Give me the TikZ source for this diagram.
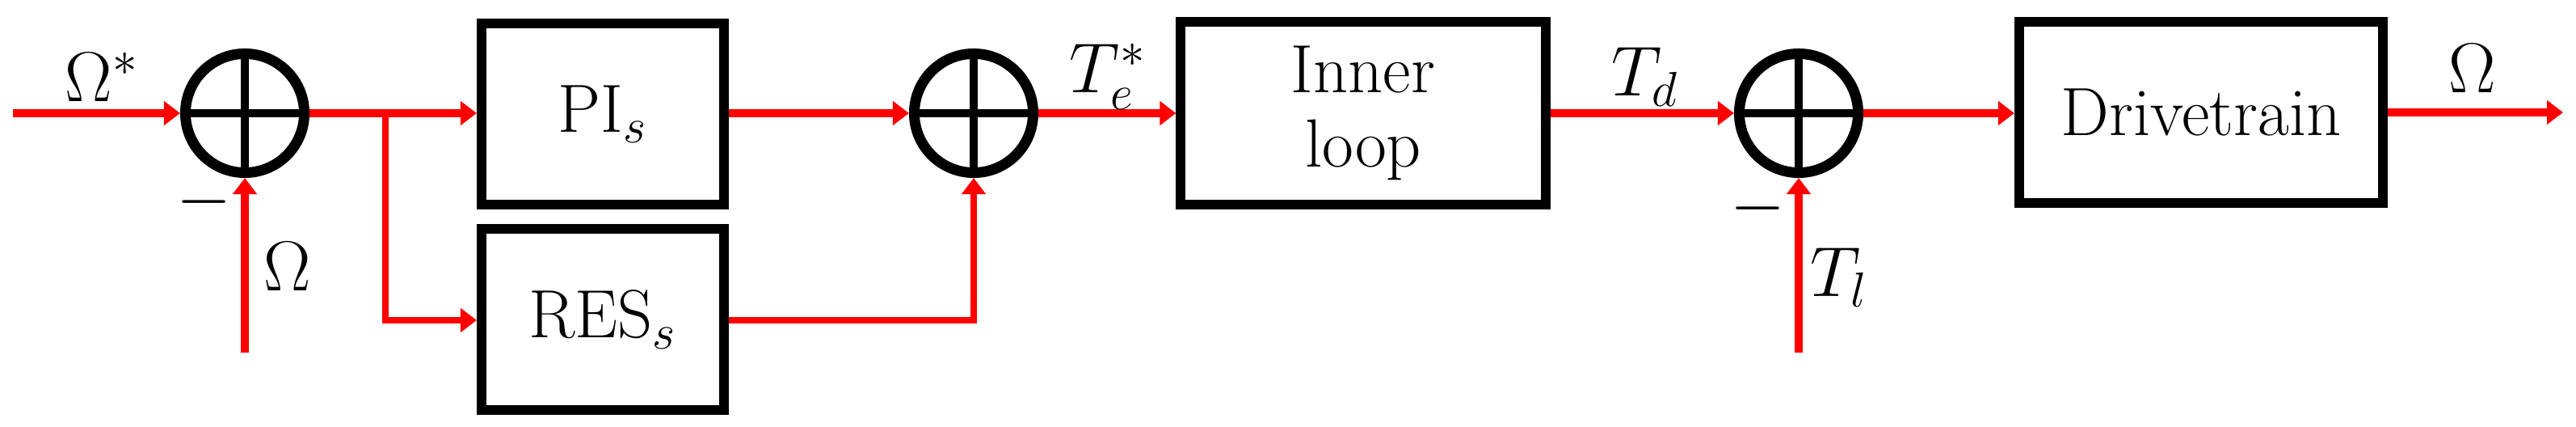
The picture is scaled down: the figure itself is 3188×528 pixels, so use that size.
\documentclass[tikz,border=0pt]{standalone}
\usetikzlibrary{arrows.meta}
\definecolor{sigred}{RGB}{255,0,0}
\begin{document}
\begin{tikzpicture}[x=0.01cm,y=-0.01cm,
  sig/.style={draw=sigred, line width=2.85pt, -{Triangle[length=0.2cm,width=0.29cm]}},
  thinsig/.style={sig, line width=2.4pt},
  blk/.style={draw, line width=3.4pt, minimum width=3cm, minimum height=2.23cm, inner sep=0pt,
    align=center, font=\fontsize{24}{26}\selectfont},
  sumnode/.style={circle, draw, line width=3.7pt, minimum size=1.47cm, inner sep=0pt},
  crossline/.style={draw, line width=2.85pt},
  lbl/.style={inner sep=0pt, font=\fontsize{23}{27}\selectfont},
  minus/.style={inner sep=0pt, font=\fontsize{24}{28}\selectfont}
]
\useasboundingbox (0,0) rectangle (3188,528);

% blocks
\node[blk] (pi) at (746,141) {PI$_s$};
\node[blk] (res) at (746,395) {RES$_s$};
\node[blk, minimum width=4.51cm, minimum height=2.26cm] (inner) at (1687,140) {Inner\\loop};
\node[blk, minimum width=4.5cm, minimum height=2.23cm] (drive) at (2724,139) {Drivetrain};

% summing junctions
\node[sumnode] (s1) at (303,140) {};
\node[sumnode] (s2) at (1205,140) {};
\node[sumnode] (s3) at (2226,140) {};
\foreach \s in {s1,s2,s3}{
  \draw[crossline] (\s.north) -- (\s.south);
  \draw[crossline] (\s.west) -- (\s.east);
}

% free ends
\coordinate (in) at (16,140);
\coordinate (fb) at (303,436);
\coordinate (br) at (477,140);
\coordinate (brd) at (477,396);
\coordinate (rc) at (1205,396);
\coordinate (tl) at (2226,436);
\coordinate (out) at (3172,139);

% connectors
\draw[sig] (in) -- (s1.west);
\draw[sig] (fb) -- (s1.south);
\draw[sig] (s1.east) -- (pi.west |- s1.east);
\draw[thinsig] (br) -- (brd) -- (res.west |- brd);
\draw[sig] (pi.east |- s2.west) -- (s2.west);
\draw[thinsig] (res.east |- rc) -- (rc) -- (s2.south);
\draw[sig] (s2.east) -- (inner.west |- s2.east);
\draw[sig] (inner.east |- s3.west) -- (s3.west);
\draw[sig] (tl) -- (s3.south);
\draw[sig] (s3.east) -- (drive.west |- s3.east);
\draw[sig] (drive.east |- out) -- (out);

% labels
\node[lbl] (lref) at (126,95) {$\Omega^*$};
\node[lbl] (lfb) at (356,330) {$\Omega$};
\node[minus] (m1) at (253,250) {$-$};
\node[lbl] (lte) at (1371,95) {$T_e^*$};
\node[lbl] (ltd) at (2036,95) {$T_d$};
\node[minus] (m3) at (2175,258) {$-$};
\node[lbl] (ltl) at (2276,343) {$T_l$};
\node[lbl] (lout) at (3060,85) {$\Omega$};
\end{tikzpicture}
\end{document}
